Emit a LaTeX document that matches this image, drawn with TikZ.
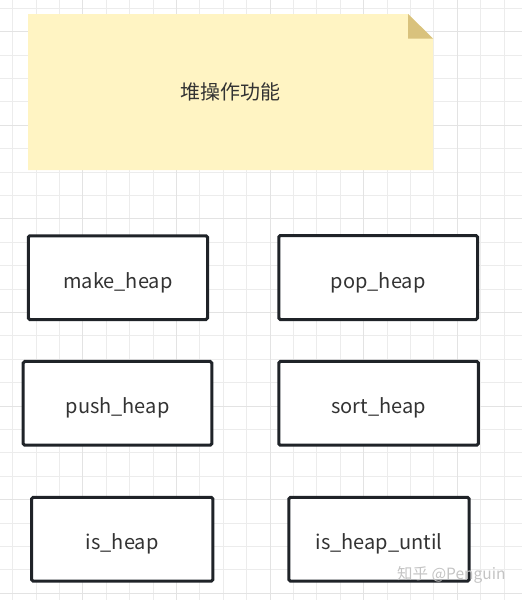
\documentclass[tikz,border=0pt]{standalone}
\usepackage{fontspec}
\setmainfont{Noto Sans CJK SC}
\definecolor{gridminor}{HTML}{ECECEC}
\definecolor{gridmajor}{HTML}{E3E3E3}
\definecolor{notefill}{HTML}{FFF4C3}
\definecolor{notefold}{HTML}{D9C27D}
\definecolor{boxline}{HTML}{1F2328}
\definecolor{txt}{HTML}{333333}
\definecolor{wm}{HTML}{C4C4C4}
\tikzset{
  fnbox/.style={draw=boxline, line width=3pt, rounded corners=1.5pt, fill=white,
    inner sep=0pt, outer sep=0pt, text=txt, font=\fontsize{20}{24}\selectfont,
    text height=21pt, text depth=0pt},
}
\begin{document}
\begin{tikzpicture}[x=1pt,y=-1pt]
\useasboundingbox (0,0) rectangle (522,600);
\fill[white] (0,0) rectangle (522,600);
% minor grid
\foreach \i in {0,...,21} {
  \draw[gridminor, line width=1pt] ({12.7+23.4*\i},0) -- ({12.7+23.4*\i},600);
}
\foreach \j in {0,...,25} {
  \draw[gridminor, line width=1pt] (0,{8.3+23.4*\j}) -- (522,{8.3+23.4*\j});
}
% major grid
\foreach \i in {3,7,11,15,19} {
  \draw[gridmajor, line width=1.1pt] ({12.7+23.4*\i},0) -- ({12.7+23.4*\i},600);
}
\foreach \j in {1,5,9,13,17,21,25} {
  \draw[gridmajor, line width=1.1pt] (0,{8.3+23.4*\j}) -- (522,{8.3+23.4*\j});
}
% note
\fill[notefill] (28,14) -- (408,14) -- (433,38.5) -- (433,170) -- (28,170) -- cycle;
\fill[notefold] (408,14) -- (433,38.5) -- (408,38.5) -- cycle;
\node[text=txt, font=\fontsize{20}{24}\selectfont] (title) at (230.5,92) {堆操作功能};
% boxes
\node[fnbox, minimum width=179.3pt, minimum height=83.7pt] (make) at (117.9,277.7) {make\_heap};
\node[fnbox, minimum width=198.7pt, minimum height=84pt] (pop) at (378.2,277.5) {pop\_heap};
\node[fnbox, minimum width=188.6pt, minimum height=83.7pt] (push) at (117.5,403.3) {push\_heap};
\node[fnbox, minimum width=199.7pt, minimum height=83.7pt] (sort) at (378.6,403.3) {sort\_heap};
\node[fnbox, minimum width=181.3pt, minimum height=83.7pt] (isheap) at (122.2,539.3) {is\_heap};
\node[fnbox, minimum width=180.4pt, minimum height=83.7pt] (isuntil) at (379,539.3) {is\_heap\_until};
% watermark
\node[text=wm, font=\fontsize{15.5}{18}\selectfont, anchor=east] (wmark) at (509,575) {知乎 @Penguin};
\end{tikzpicture}
\end{document}
